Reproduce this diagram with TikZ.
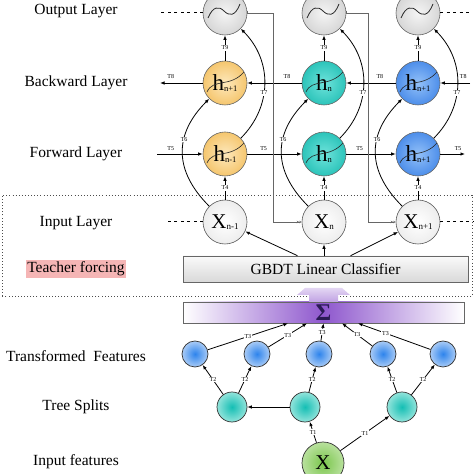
\documentclass[tikz,border=0pt]{standalone}
\usepackage{fontspec}
\setmainfont{Liberation Serif}
\usepackage{tikz}
\usetikzlibrary{arrows.meta,positioning}

\definecolor{hyel}{HTML}{F5C66E}
\definecolor{hyelin}{HTML}{FDE8BC}
\definecolor{hteal}{HTML}{2CC4BA}
\definecolor{htealin}{HTML}{6FE3DB}
\definecolor{hblue}{HTML}{4D8EEA}
\definecolor{hbluein}{HTML}{92C0F8}
\definecolor{sblue}{HTML}{2E84EC}
\definecolor{sbluelt}{HTML}{A9CBF6}
\definecolor{steal}{HTML}{14BEB4}
\definecolor{steallt}{HTML}{92E4DB}
\definecolor{sgreen}{HTML}{7AC64C}
\definecolor{sgreenlt}{HTML}{B9E19E}
\definecolor{sigpurple}{HTML}{8245C8}
\definecolor{sigdark}{HTML}{2A1A55}
\definecolor{tfpink}{HTML}{F5B5B5}

\newcommand{\hlab}[1]{h\raisebox{-1.5pt}{\fontsize{8.5}{8.5}\selectfont #1}}
\newcommand{\xlab}[1]{X\raisebox{-1pt}{\fontsize{9}{9}\selectfont #1}}

\begin{document}
\begin{tikzpicture}[x=1pt,y=1pt,
  every node/.append style={inner sep=0pt},
  lay/.style={font=\fontsize{15.5}{16}\selectfont},
  outc/.style={circle,draw=black!60,line width=0.6pt,minimum size=44pt,
    inner color=gray!8,outer color=gray!32},
  hc/.style={circle,draw=black!60,line width=0.6pt,minimum size=44pt,
    font=\fontsize{23}{23}\selectfont},
  inc/.style={circle,draw=black!65,line width=0.6pt,minimum size=44pt,
    inner color=white,outer color=gray!14,font=\fontsize{21}{21}\selectfont},
  leaf/.style={circle,draw=black!80,line width=0.7pt,minimum size=26pt,
    inner color=sblue,outer color=sbluelt},
  split/.style={circle,draw=black!80,line width=0.7pt,minimum size=30pt,
    inner color=steal,outer color=steallt},
  arr/.style={line width=0.8pt,-{Latex[length=4.5pt,width=3.5pt]}},
  tl/.style={font=\fontsize{6}{6}\selectfont,fill=white,inner sep=0.8pt},
  tla/.style={font=\fontsize{6}{6}\selectfont},
  dashln/.style={line width=1pt,dash pattern=on 3pt off 3.5pt},
  dotln/.style={line width=0.8pt,black!70,dash pattern=on 0.9pt off 2.2pt},
  tf/.style={black!60,line width=0.5pt,
    {Bar[width=3pt]}-{Stealth[length=2.5pt,width=2.5pt]Stealth[length=2.5pt,width=2.5pt]}},
  curv/.style={line width=0.6pt,black!85}
]
\useasboundingbox (0,0) rectangle (474,474);
\clip (0,0) rectangle (474,474);
\fill[white] (0,0) rectangle (474,474);

% layer names
\node[lay] (lout) at (76,463) {Output Layer};
\node[lay] (lbwd) at (76,391) {Backward Layer};
\node[lay] (lfwd) at (76,320) {Forward Layer};
\node[lay] (linp) at (76,251) {Input Layer};
\node[lay,fill=tfpink,inner sep=1.5pt] (ltf) at (76,205) {Teacher forcing};
\node[lay] (ltrf) at (76,118) {Transformed\ \ Features};
\node[lay] (ltree) at (76,67) {Tree Splits};
\node[lay] (linf) at (76,12) {Input features};

% dotted frame
\draw[dotln] (2,178) rectangle (472,279);

% output layer
\node[outc] (o1) at (225,461) {};
\node[outc] (o2) at (324,461) {};
\node[outc] (o3) at (418,461) {};
% backward layer
\node[hc,inner color=hyelin,outer color=hyel] (b1) at (225,391) {\hlab{n+1}};
\node[hc,inner color=htealin,outer color=hteal] (b2) at (324,391) {\hlab{n}};
\node[hc,inner color=hbluein,outer color=hblue] (b3) at (418,391) {\hlab{n+1}};
% forward layer
\node[hc,inner color=hyelin,outer color=hyel] (f1) at (225,320) {\hlab{n-1}};
\node[hc,inner color=htealin,outer color=hteal] (f2) at (324,320) {\hlab{n}};
\node[hc,inner color=hbluein,outer color=hblue] (f3) at (418,320) {\hlab{n+1}};
% input layer
\node[inc] (x1) at (225,252) {\xlab{n-1}};
\node[inc] (x2) at (324,252) {\xlab{n}};
\node[inc] (x3) at (418,252) {\xlab{n+1}};

\node[lay,draw=black!60,line width=0.6pt,top color=gray!4,bottom color=gray!30,
  minimum width=285pt,minimum height=26pt] (gbdt) at (325.5,205) {GBDT Linear Classifier};
\node[draw=black!60,line width=0.6pt,left color=white,right color=white,middle color=sigpurple!90,
  minimum width=281pt,minimum height=21pt,font=\fontsize{24}{24}\selectfont\bfseries,
  text=sigdark] (sig) at (323.5,161.5) {Σ};

% bottom part
\node[leaf] (l1) at (195,120) {};
\node[leaf] (l2) at (257,120) {};
\node[leaf] (l3) at (319,120) {};
\node[leaf] (l4) at (383,120) {};
\node[leaf] (l5) at (443,120) {};
\node[split] (s1) at (232,67) {};
\node[split] (s2) at (305,67) {};
\node[split] (s3) at (402,67) {};
\node[circle,draw=black!80,line width=0.7pt,minimum size=42pt,inner color=sgreen,
  outer color=sgreenlt,font=\fontsize{21}{21}\selectfont] (xin) at (323,11) {X};

% curves inside the cells
\foreach \n in {b1,b2,b3,f1,f2,f3}
  \draw[curv] ([shift={(-18,-9)}]\n.center) .. controls +(6,14) and +(-14,-16) .. ([shift={(19,11)}]\n.center);
\foreach \n in {o1,o2,o3}
  \draw[curv,line width=0.8pt] ([shift={(-17,-5)}]\n.center)
    .. controls ([shift={(-12,7)}]\n.center) and ([shift={(-6,7)}]\n.center) .. ([shift={(-1,2)}]\n.center)
    .. controls ([shift={(4,-3)}]\n.center) and ([shift={(10,-4)}]\n.center) .. ([shift={(15,9)}]\n.center);

% free ends
\coordinate (bin) at (470,391);
\coordinate (bout) at (160,391);
\coordinate (fin) at (157,320);
\coordinate (fout) at (465,320);
\coordinate (odl) at (160,461);
\coordinate (odr) at (472,461);
\coordinate (idl) at (166,252);
\coordinate (idr) at (474,252);

\draw[dashln] (o1) ++(-22,0) -- (odl);
\draw[dashln] (o3) ++(22,0) -- (odr);
\draw[dashln] (x1) ++(-22,0) -- (idl);
\draw[dashln] (x3) ++(22,0) -- (idr);

% backward
\draw[arr] (bin) -- (b3) node[tla,pos=0.23,above=4pt] {T8};
\draw[arr] (b3) -- (b2) node[tla,pos=0.32,above=4pt] {T8};
\draw[arr] (b2) -- (b1) node[tla,pos=0.27,above=4pt] {T8};
\draw[arr] (b1) -- (bout) node[tla,pos=0.75,above=4pt] {T8};
% forward
\draw[arr] (fin) -- (f1) node[tla,pos=0.3,above=3pt] {T5};
\draw[arr] (f1) -- (f2) node[tla,pos=0.3,above=3pt] {T5};
\draw[arr] (f2) -- (f3) node[tla,pos=0.27,above=3pt] {T5};
\draw[arr] (f3) -- (fout) node[tla,pos=0.72,above=3pt] {T5};

\foreach \i in {1,2,3} {
  \draw[arr] (b\i) -- (o\i) node[tl,midway] {T9};
  \draw[arr] (x\i) -- (f\i) node[tl,midway] {T4};
  \draw[arr] (x\i.135) to[out=135,in=225,looseness=1.2] node[tl,pos=0.62] {T6} (b\i.225);
  \draw[arr] (f\i.45) to[out=45,in=-45,looseness=1.05] node[tl,pos=0.42] {T7} (o\i.-45);
}

% teacher forcing
\draw[tf] (o1.east) -- ++(26,0) |- (x2.west);
\draw[tf] (o2.east) -- ++(22,0) |- (x3.west);

% classifier to inputs
\draw[arr] ([xshift=-28pt]gbdt.north) -- (x1);
\draw[arr] ([xshift=-1.5pt]gbdt.north) -- (x2);
\draw[arr] ([xshift=25pt]gbdt.north) -- (x3);

% sum to classifier
\shade[top color=sigpurple!22,bottom color=sigpurple!50] (309,172) -- (309,179) -- (297,179) -- (305,186)
  -- (342,186) -- (350,179) -- (338,179) -- (338,172) -- cycle;

% tree part
\draw[arr] (xin) -- (s2) node[tl,midway] {T1};
\draw[arr] (xin) -- (s3) node[tl,midway] {T1};
\draw[arr] (s2) -- (s1);
\draw[arr] (s1) -- (l1) node[tl,midway] {T2};
\draw[arr] (s1) -- (l2) node[tl,midway] {T2};
\draw[arr] (s2) -- (l3) node[tl,midway] {T2};
\draw[arr] (s3) -- (l4) node[tl,midway] {T2};
\draw[arr] (s3) -- (l5) node[tl,midway] {T2};
\foreach \i/\dx/\p in {1/-35.5/0.5,2/-16.5/0.5,3/0/0.5,4/18.5/0.5,5/34.5/0.62} {
  \coordinate (g\i) at ([xshift=\dx pt]sig.south);
  \draw[arr] (l\i) -- (g\i) node[tl,pos=\p] {T3};
}
\end{tikzpicture}
\end{document}
